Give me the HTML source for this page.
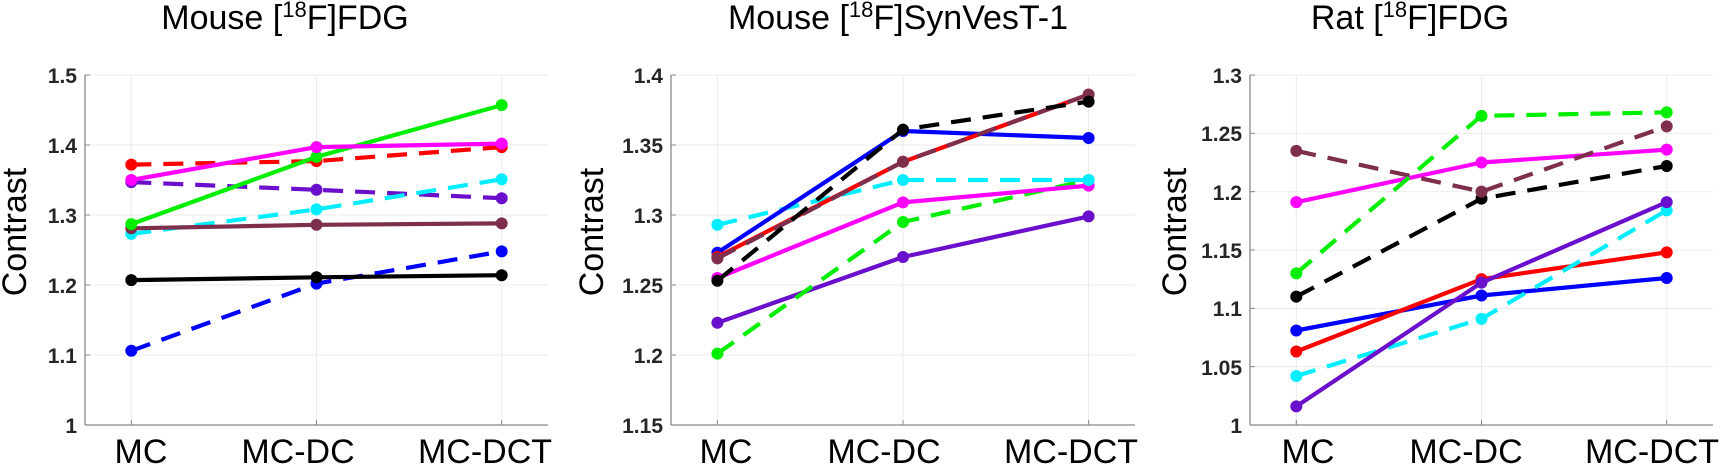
<!DOCTYPE html>
<html><head><meta charset="utf-8"><style>
html,body{margin:0;padding:0;background:#fff;}
svg{display:block;}
.tk{font-family:"Liberation Sans",Arial,sans-serif;font-weight:bold;font-size:21px;fill:#262626;text-anchor:end;}
.xl{font-family:"Liberation Sans",Arial,sans-serif;font-size:34px;fill:#000;text-anchor:middle;}
.yl{font-family:"Liberation Sans",Arial,sans-serif;font-size:34px;fill:#000;text-anchor:middle;}
.ti{font-family:"Liberation Sans",Arial,sans-serif;font-size:34px;fill:#000;text-anchor:middle;}
</style></head><body>
<svg id="s" width="1720" height="465" xmlns="http://www.w3.org/2000/svg">
<g id="grid"></g>
<text class="ti" x="285" y="29">Mouse [<tspan font-size="22" dy="-12">18</tspan><tspan dy="12">F]FDG</tspan></text>
<text class="ti" x="898" y="29">Mouse [<tspan font-size="22" dy="-12">18</tspan><tspan dy="12">F]SynVesT-1</tspan></text>
<text class="ti" x="1410" y="29">Rat [<tspan font-size="22" dy="-12">18</tspan><tspan dy="12">F]FDG</tspan></text>
<text class="yl" transform="translate(26,232) rotate(-90)">Contrast</text>
<text class="yl" transform="translate(603,232) rotate(-90)">Contrast</text>
<text class="yl" transform="translate(1186,232) rotate(-90)">Contrast</text>
<text class="xl" x="141" y="463">MC</text><text class="xl" x="298" y="463">MC-DC</text><text class="xl" x="485" y="463">MC-DCT</text>
<text class="xl" x="726" y="463">MC</text><text class="xl" x="884" y="463">MC-DC</text><text class="xl" x="1071" y="463">MC-DCT</text>
<text class="xl" x="1308" y="463">MC</text><text class="xl" x="1466" y="463">MC-DC</text><text class="xl" x="1652" y="463">MC-DCT</text>
<text class="tk" x="77" y="433">1</text><text class="tk" x="77" y="363">1.1</text><text class="tk" x="77" y="293">1.2</text><text class="tk" x="77" y="223">1.3</text><text class="tk" x="77" y="153">1.4</text><text class="tk" x="77" y="83">1.5</text>
<text class="tk" x="663" y="433">1.15</text><text class="tk" x="663" y="363">1.2</text><text class="tk" x="663" y="293">1.25</text><text class="tk" x="663" y="223">1.3</text><text class="tk" x="663" y="153">1.35</text><text class="tk" x="663" y="83">1.4</text>
<text class="tk" x="1242" y="433">1</text><text class="tk" x="1242" y="375">1.05</text><text class="tk" x="1242" y="316">1.1</text><text class="tk" x="1242" y="258">1.15</text><text class="tk" x="1242" y="200">1.2</text><text class="tk" x="1242" y="141">1.25</text><text class="tk" x="1242" y="83">1.3</text>
<g id="data"></g>
</svg>
<script>
var NS="http://www.w3.org/2000/svg";
function el(n,a,p){var e=document.createElementNS(NS,n);for(var k in a)e.setAttribute(k,a[k]);p.appendChild(e);return e;}
var grid=document.getElementById('grid'),data=document.getElementById('data');
var C={red:'#ff0000',mag:'#ff00ff',grn:'#00ee00',pur:'#6a0fcc',cyn:'#00eeff',mar:'#7e2f4e',blk:'#000000',blu:'#0000ff'};
var panels=[
 {l:85,r:548,lo:1,hi:1.5,ticks:[1,1.1,1.2,1.3,1.4,1.5],s:[
  ['red',1,[1.372,1.377,1.397]],['pur',1,[1.347,1.336,1.324]],['cyn',1,[1.273,1.308,1.351]],['blu',1,[1.106,1.202,1.248]],
  ['mar',0,[1.281,1.286,1.288]],['blk',0,[1.207,1.211,1.214]],['grn',0,[1.287,1.383,1.457]],['mag',0,[1.35,1.397,1.402]]]},
 {l:671,r:1135,lo:1.15,hi:1.4,ticks:[1.15,1.2,1.25,1.3,1.35,1.4],s:[
  ['pur',0,[1.223,1.27,1.299]],['grn',1,[1.201,1.295,1.325]],['mag',0,[1.255,1.309,1.321]],['cyn',1,[1.293,1.325,1.325]],
  ['blu',0,[1.273,1.36,1.355]],['red',0,[1.27,1.338,1.386]],['mar',1,[1.269,1.338,1.386]],['blk',1,[1.253,1.361,1.381]]]},
 {l:1250,r:1713,lo:1,hi:1.3,ticks:[1,1.05,1.1,1.15,1.2,1.25,1.3],s:[
  ['blu',0,[1.081,1.111,1.126]],['red',0,[1.063,1.125,1.148]],['cyn',1,[1.042,1.091,1.184]],['pur',0,[1.016,1.122,1.191]],
  ['blk',1,[1.11,1.194,1.222]],['mag',0,[1.191,1.225,1.236]],['mar',1,[1.235,1.2,1.256]],['grn',1,[1.13,1.265,1.268]]]}
];
var T=75,B=425;
panels.forEach(function(p){
  var w=p.r-p.l;
  var xs=[p.l+0.1*w,p.l+0.5*w,p.l+0.9*w];
  function Y(v){return B-(v-p.lo)/(p.hi-p.lo)*(B-T);}
  p.ticks.forEach(function(t){var y=Y(t);el('line',{x1:p.l,x2:p.r,y1:y,y2:y,stroke:'#ebebeb','stroke-width':1},grid);
    el('line',{x1:p.l,x2:p.l+5,y1:y,y2:y,stroke:'#888','stroke-width':1},grid);});
  xs.forEach(function(x){el('line',{x1:x,x2:x,y1:T,y2:B,stroke:'#ebebeb','stroke-width':1},grid);
    el('line',{x1:x,x2:x,y1:B,y2:B-5,stroke:'#888','stroke-width':1},grid);});
  el('line',{x1:p.l,x2:p.l,y1:T,y2:B,stroke:'#888','stroke-width':1.3},grid);
  el('line',{x1:p.l,x2:p.r,y1:B,y2:B,stroke:'#888','stroke-width':1.3},grid);
  p.s.forEach(function(s){
    var c=C[s[0]],pts=s[2].map(function(v,i){return xs[i]+','+Y(v);}).join(' ');
    var a={points:pts,fill:'none',stroke:c,'stroke-width':4.2,'stroke-linejoin':'round'};
    if(s[1])a['stroke-dasharray']='20 12';
    el('polyline',a,data);
    s[2].forEach(function(v,i){el('circle',{cx:xs[i],cy:Y(v),r:6,fill:c},data);});
  });
});
</script>
</body></html>
